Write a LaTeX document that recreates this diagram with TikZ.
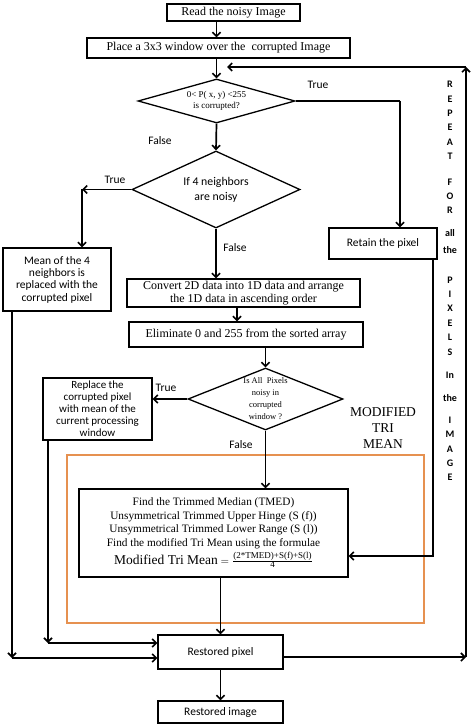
\documentclass[tikz,border=0pt]{standalone}
\usepackage{fontspec}
\setmainfont{Liberation Serif}
\newfontfamily\calfont{Carlito}
\usetikzlibrary{shapes.geometric,arrows.meta}
\definecolor{orng}{RGB}{230,145,80}
\begin{document}
\begin{tikzpicture}[x=1pt,y=-1pt,
  box/.style={draw, line width=1.3pt, inner sep=0pt, align=center},
  serifbox/.style={box, font=\fontsize{12}{13}\selectfont},
  sansbox/.style={box, font=\calfont\fontsize{11.5}{12.3}\selectfont},
  dia/.style={draw, diamond, line width=1.3pt, inner sep=0pt},
  arr/.style={line width=1.7pt, -{Straight Barb[length=4pt,width=8pt,line width=1.6pt]}},
  plain/.style={line width=1.7pt},
  lbl/.style={font=\calfont\fontsize{11.5}{13}\selectfont, inner sep=0pt}]
\fill[white] (0,0) rectangle (474,727);
\useasboundingbox (0,0) rectangle (474,727);

\node[serifbox, minimum width=133pt, minimum height=17pt] (read) at (233.5,12.5) {Read the noisy Image};
\node[serifbox, minimum width=263pt, minimum height=20pt] (place) at (218.5,48) {Place a 3x3 window over the \ corrupted Image};
\node[dia, minimum width=157pt, minimum height=44pt] (d1) at (216.5,101) {};
\node[align=center, inner sep=0pt, font=\fontsize{9}{11}\selectfont] (d1t) at (d1) {0< P( x, y) <255\\is corrupted?};
\node[lbl] (t1) at (318,85) {True};
\node[sansbox, minimum width=108pt, minimum height=31pt] (retain) at (383,243.5) {Retain the pixel};
\node[dia, minimum width=168pt, minimum height=77pt] (d2) at (216,189.5) {};
\node[align=center, inner sep=0pt, font=\calfont\fontsize{11.8}{15}\selectfont] (d2t) at (d2) {If 4 neighbors\\are noisy};
\node[lbl] (f1) at (160,141) {False};
\node[lbl] (t2) at (115,180) {True};
\node[sansbox, minimum width=108pt, minimum height=63pt] (mean) at (57,279.5) {Mean of the 4\\neighbors is\\replaced with the\\corrupted pixel};
\node[lbl] (f2) at (235,248) {False};
\node[serifbox, minimum width=233pt, minimum height=28pt] (conv) at (243.5,293) {Convert 2D data into 1D data and arrange\\the 1D data in ascending order};
\node[serifbox, minimum width=234pt, minimum height=25pt] (elim) at (246,334.5) {Eliminate 0 and 255 from the sorted array};
\node[dia, minimum width=155pt, minimum height=62pt] (d3) at (265.5,399) {};
\node[align=center, inner sep=0pt, font=\fontsize{8.5}{12}\selectfont] (d3t) at (d3) {Is All\ \ Pixels\\noisy in\\corrupted\\window ?};
\node[lbl] (t3) at (166,388) {True};
\node[sansbox, font=\calfont\fontsize{11}{12}\selectfont, minimum width=109pt, minimum height=62pt] (repl) at (97.5,409) {Replace the\\corrupted pixel\\with mean of the\\current processing\\window};
\node[lbl] (f3) at (241,445) {False};
\node[align=center, inner sep=0pt, font=\fontsize{13.5}{16}\selectfont] (mtm) at (383,428) {MODIFIED\\TRI\\MEAN};
\node[draw=orng, line width=1.3pt, minimum width=357pt, minimum height=168pt, inner sep=0pt] (frame) at (245.5,539) {};
\node[box, font=\fontsize{11.3}{13.4}\selectfont, minimum width=269pt, minimum height=88pt] (tri) at (213.5,533) {Find the Trimmed Median (TMED)\\Unsymmetrical Trimmed Upper Hinge (S (f))\\Unsymmetrical Trimmed Lower Range (S (l))\\Find the modified Tri Mean using the formulae\\[3pt]{\fontsize{13.5}{15}\selectfont Modified Tri Mean} $=\frac{\mbox{\fontsize{9}{10}\selectfont (2*TMED)+S(f)+S(l)}}{\mbox{\fontsize{9}{10}\selectfont 4}}$};
\node[sansbox, minimum width=125pt, minimum height=34pt] (rp) at (220.5,652) {Restored pixel};
\node[sansbox, minimum width=125pt, minimum height=22pt] (ri) at (220.5,712) {Restored image};
\node[align=center, inner sep=0pt, anchor=north, font=\calfont\bfseries\fontsize{10}{14.4}\selectfont] (rep) at (450,81) {R\\E\\P\\E\\A\\T\\[11pt]F\\O\\R\\[8pt]all\\[3pt]the\\[15pt]P\\I\\X\\E\\L\\S\\[9pt]In\\[9pt]the\\[7pt]I\\M\\A\\G\\E};

% coordinates
\coordinate (br) at (466,657);
\coordinate (tr) at (466,67);
\coordinate (lp) at (227,67);
\coordinate (mn) at ([xshift=25pt]mean.north);
\coordinate (ms) at ([xshift=-45pt]mean.south);
\coordinate (rs) at ([xshift=-49.5pt]repl.south);
\coordinate (rpw1) at ([yshift=-6pt]rp.west);
\coordinate (rpw2) at ([yshift=9pt]rp.west);
\coordinate (rpe) at ([yshift=-5pt]rp.east);
\coordinate (rtn) at ([xshift=17pt]retain.north);
\coordinate (rts) at ([xshift=50pt]retain.south);
\coordinate (tre) at ([yshift=-23pt]tri.east);
\coordinate (cs) at ([xshift=-6.5pt]conv.south);

% connectors
\draw[arr] (read.south -| d1.north) -- (place.north -| d1.north);
\draw[arr] (place.south -| d1.north) -- (d1.north);
\draw[plain] (d1.east) -- (rtn |- d1.east);
\draw[arr] (rtn |- d1.east) -- (rtn);
\draw[arr] (d1.south) -- (d2.north);
\draw[arr] (d2.west) -- (mn |- d2.west);
\draw[arr] (mn |- d2.west) -- (mn);
\draw[arr] (d2.south) -- (d2.south |- conv.north);
\draw[arr] (cs) -- (cs |- elim.north);
\draw[arr] (d3.north |- elim.south) -- (d3.north);
\draw[arr] (d3.west) -- (d3.west -| repl.east);
\draw[arr] (d3.south) -- (d3.south |- tri.north);
\draw[arr] (rts) |- (tre);
\draw[arr] (tri.south -| rp.north) -- (rp.north);
\draw[arr] (ms) -- (ms |- rpw1);
\draw[arr] (ms |- rpw1) -- (rpw1);
\draw[arr] (rs) -- (rs |- rpw2);
\draw[arr] (rs |- rpw2) -- (rpw2);
\draw[arr] (rp.south) -- (ri.north);
\draw[arr] (rpe) -- (br);
\draw[arr] (br) -- (tr);
\draw[arr] (tr) -- (lp);
\end{tikzpicture}
\end{document}
